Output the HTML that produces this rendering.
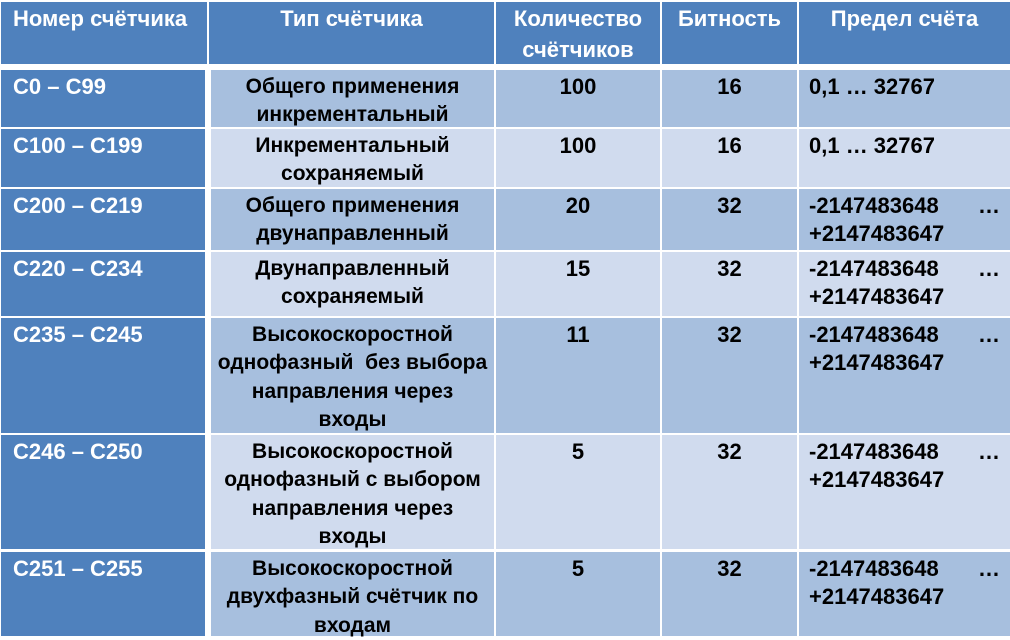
<!DOCTYPE html>
<html>
<head>
<meta charset="utf-8">
<style>
  html, body { margin:0; padding:0; background:#ffffff; }
  body { width:1010px; height:640px; position:relative; overflow:hidden;
         font-family:"Liberation Sans","Noto Sans CJK SC",sans-serif; font-weight:bold; font-size:21px; }
  .c { position:absolute; box-sizing:border-box; white-space:nowrap; }
  .h { background:#4F81BD; color:#fff; line-height:31px; padding-top:1px; font-size:22px; }
  .k { background:#4F81BD; color:#fff; line-height:28.5px; padding-top:2.5px; padding-left:12px; font-size:22px; }
  .d { background:#A7BFDE; color:#000; line-height:28.5px; padding-top:2.5px; }
  .l { background:#D0DBEE; color:#000; line-height:28.5px; padding-top:2.5px; }
  .ctr { text-align:center; }
  .num { font-size:22px; }
  .lft { text-align:left; padding-left:10px; font-size:22px; }
  .rng { padding-left:10px; padding-right:10px; font-size:22px; }
  .rng .a { display:flex; justify-content:space-between; }
</style>
</head>
<body>
<!-- header -->
<div class="c h" style="left:1px;top:2px;width:206px;height:62px;padding-left:12px;">Номер счётчика</div>
<div class="c h ctr" style="left:209px;top:2px;width:285px;height:62px;">Тип счётчика</div>
<div class="c h ctr" style="left:496px;top:2px;width:164px;height:62px;">Количество<br>счётчиков</div>
<div class="c h ctr" style="left:662px;top:2px;width:135px;height:62px;">Битность</div>
<div class="c h ctr" style="left:799px;top:2px;width:211px;height:62px;">Предел счёта</div>

<!-- row 1 -->
<div class="c k" style="left:1px;top:70px;width:204px;height:57px;">C0 – C99</div>
<div class="c d ctr" style="left:211px;top:70px;width:283px;height:57px;">Общего применения<br>инкрементальный</div>
<div class="c d ctr num" style="left:496px;top:70px;width:164px;height:57px;">100</div>
<div class="c d ctr num" style="left:662px;top:70px;width:135px;height:57px;">16</div>
<div class="c d lft" style="left:799px;top:70px;width:211px;height:57px;">0,1 … 32767</div>

<!-- row 2 -->
<div class="c k" style="left:1px;top:129px;width:204px;height:58px;">C100 – C199</div>
<div class="c l ctr" style="left:211px;top:129px;width:283px;height:58px;">Инкрементальный<br>сохраняемый</div>
<div class="c l ctr num" style="left:496px;top:129px;width:164px;height:58px;">100</div>
<div class="c l ctr num" style="left:662px;top:129px;width:135px;height:58px;">16</div>
<div class="c l lft" style="left:799px;top:129px;width:211px;height:58px;">0,1 … 32767</div>

<!-- row 3 -->
<div class="c k" style="left:1px;top:189px;width:204px;height:61px;">C200 – C219</div>
<div class="c d ctr" style="left:211px;top:189px;width:283px;height:61px;">Общего применения<br>двунаправленный</div>
<div class="c d ctr num" style="left:496px;top:189px;width:164px;height:61px;">20</div>
<div class="c d ctr num" style="left:662px;top:189px;width:135px;height:61px;">32</div>
<div class="c d rng" style="left:799px;top:189px;width:211px;height:61px;"><div class="a"><span>-2147483648</span><span>…</span></div>+2147483647</div>

<!-- row 4 -->
<div class="c k" style="left:1px;top:252px;width:204px;height:64px;">C220 – C234</div>
<div class="c l ctr" style="left:211px;top:252px;width:283px;height:64px;">Двунаправленный<br>сохраняемый</div>
<div class="c l ctr num" style="left:496px;top:252px;width:164px;height:64px;">15</div>
<div class="c l ctr num" style="left:662px;top:252px;width:135px;height:64px;">32</div>
<div class="c l rng" style="left:799px;top:252px;width:211px;height:64px;"><div class="a"><span>-2147483648</span><span>…</span></div>+2147483647</div>

<!-- row 5 -->
<div class="c k" style="left:1px;top:318px;width:204px;height:115px;">C235 – C245</div>
<div class="c d ctr" style="left:211px;top:318px;width:283px;height:115px;">Высокоскоростной<br>однофазный&nbsp; без выбора<br>направления через<br>входы</div>
<div class="c d ctr num" style="left:496px;top:318px;width:164px;height:115px;">11</div>
<div class="c d ctr num" style="left:662px;top:318px;width:135px;height:115px;">32</div>
<div class="c d rng" style="left:799px;top:318px;width:211px;height:115px;"><div class="a"><span>-2147483648</span><span>…</span></div>+2147483647</div>

<!-- row 6 -->
<div class="c k" style="left:1px;top:435px;width:204px;height:114px;">C246 – C250</div>
<div class="c l ctr" style="left:211px;top:435px;width:283px;height:114px;">Высокоскоростной<br>однофазный с выбором<br>направления через<br>входы</div>
<div class="c l ctr num" style="left:496px;top:435px;width:164px;height:114px;">5</div>
<div class="c l ctr num" style="left:662px;top:435px;width:135px;height:114px;">32</div>
<div class="c l rng" style="left:799px;top:435px;width:211px;height:114px;"><div class="a"><span>-2147483648</span><span>…</span></div>+2147483647</div>

<!-- row 7 -->
<div class="c k" style="left:1px;top:552px;width:204px;height:84px;">C251 – C255</div>
<div class="c d ctr" style="left:211px;top:552px;width:283px;height:84px;">Высокоскоростной<br>двухфазный счётчик по<br>входам</div>
<div class="c d ctr num" style="left:496px;top:552px;width:164px;height:84px;">5</div>
<div class="c d ctr num" style="left:662px;top:552px;width:135px;height:84px;">32</div>
<div class="c d rng" style="left:799px;top:552px;width:211px;height:84px;"><div class="a"><span>-2147483648</span><span>…</span></div>+2147483647</div>
</body>
</html>
